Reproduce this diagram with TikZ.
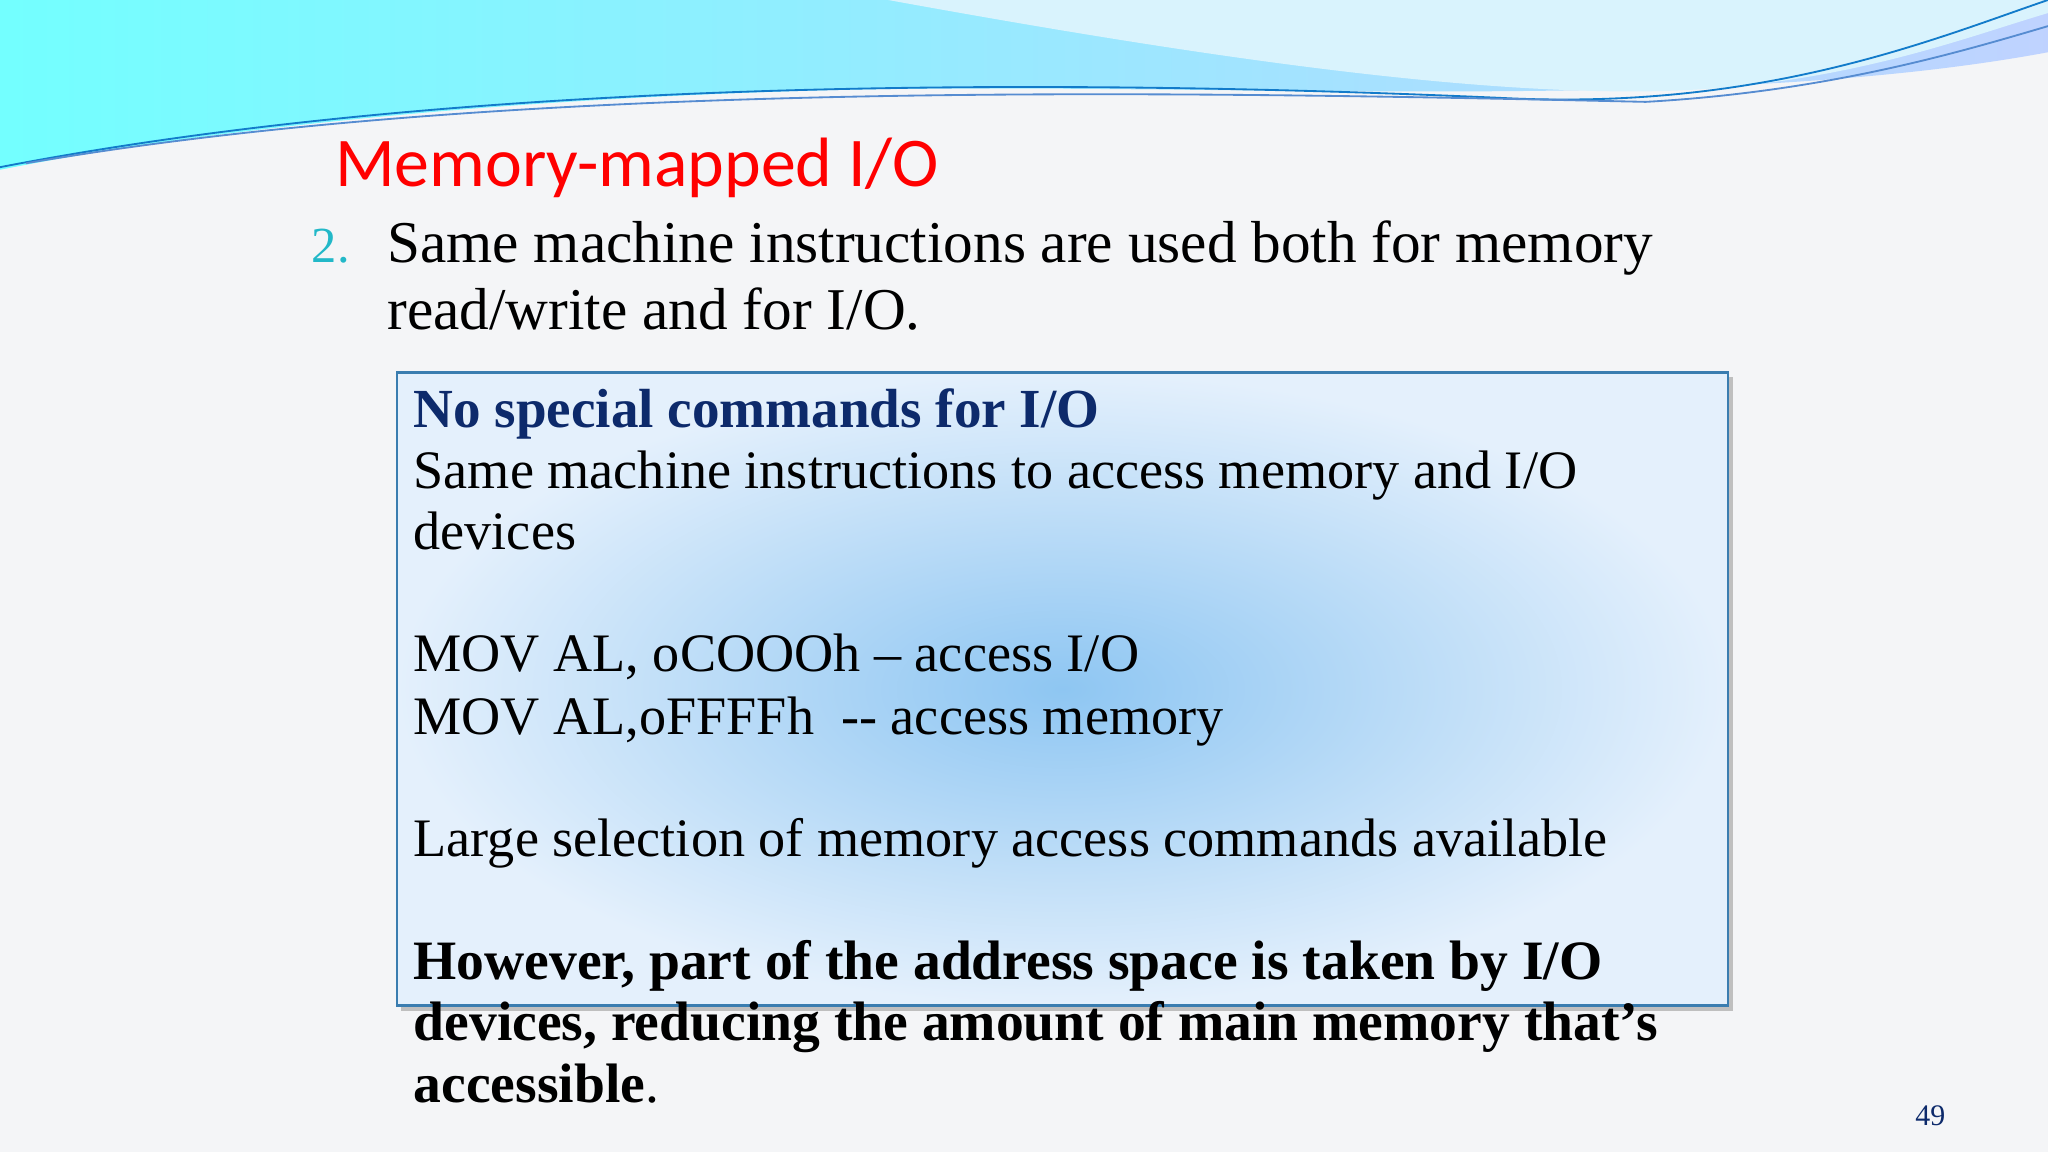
\documentclass[tikz,border=0pt]{standalone}
\usepackage{fontspec}
\setmainfont{Liberation Serif}
\newfontfamily\titlefont{Carlito}
\definecolor{bgc}{HTML}{F4F5F7}
\definecolor{navy}{HTML}{0D2A6B}
\definecolor{teal1}{HTML}{22B8C8}
\definecolor{boxedge}{HTML}{3A7DB0}
\definecolor{boxin}{HTML}{8EC6F2}
\definecolor{boxout}{HTML}{E4F0FC}
\tikzset{
  body/.style={anchor=base west,inner sep=0pt,font=\fontsize{12.9}{15}\selectfont},
  boxtxt/.style={anchor=base west,inner sep=0pt,font=\fontsize{11.8}{14}\selectfont}
}
\begin{document}
\begin{tikzpicture}[x=0.01cm,y=-0.01cm]
\fill[bgc] (0,0) rectangle (1568,882);
\useasboundingbox (0,0) rectangle (1568,882);
% top waves
\shade[left color=cyan!55!white, right color=cyan!30!blue!25] (0,0) -- (1568,0) -- (1568,40) .. controls (1300,90) and (900,60) .. (600,70) .. controls (300,80) and (100,110) .. (0,130) -- cycle;
\fill[white!85!cyan] (680,0) .. controls (900,40) and (1100,70) .. (1250,70) .. controls (1400,70) and (1500,30) .. (1568,10) -- (1568,0) -- cycle;
\draw[cyan!60!blue,thin] (0,128) .. controls (300,70) and (700,55) .. (1150,75) .. controls (1350,85) and (1480,30) .. (1568,0);
\draw[cyan!50!blue!70,thin] (20,125) .. controls (400,60) and (900,70) .. (1260,78) .. controls (1400,70) and (1500,40) .. (1568,20);
% title
\node[anchor=base west,inner sep=0pt,text=red,font=\titlefont\fontsize{15.2}{18}\selectfont] (title) at (256,143) {Memory-mapped I/O};
\node[anchor=base west,inner sep=0pt,text=teal1,font=\fontsize{11}{13}\selectfont] (num) at (238,201) {2.};
\node[body] (l1) at (296,201) {Same machine instructions are used both for memory};
\node[body] (l2) at (296,252) {read/write and for I/O.};
% box
\fill[black!25] (307,289) rectangle (1327,774);
\shade[inner color=boxin, outer color=boxout] (304,285) rectangle (1323,770);
\draw[boxedge,line width=0.6pt] (304,285) rectangle (1323,770) coordinate (boxse);
\node[boxtxt,text=navy,font=\bfseries\fontsize{12}{14}\selectfont] (b0) at (316,327) {No special commands for I/O};
\node[boxtxt] (b1) at (316,374) {Same machine instructions to access memory and I/O};
\node[boxtxt] (b2) at (316,421) {devices};
\node[boxtxt] (b3) at (316,514) {MOV AL, oCOOOh -- access I/O};
\node[boxtxt] (b4) at (316,562) {MOV AL,oFFFFh\ \ -{}- access memory};
\node[boxtxt] (b5) at (316,656) {Large selection of memory access commands available};
\node[boxtxt,font=\bfseries\fontsize{12.1}{14}\selectfont] (b6) at (316,750) {However, part of the address space is taken by I/O};
\node[boxtxt,font=\bfseries\fontsize{12.1}{14}\selectfont] (b7) at (316,797) {devices, reducing the amount of main memory that’s};
\node[boxtxt,font=\fontsize{12.1}{14}\selectfont] (b8) at (316,844) {\textbf{accessible}.};
\node[anchor=base east,inner sep=0pt,text=navy,font=\fontsize{6.5}{8}\selectfont] (pg) at (1490,862) {49};
\end{tikzpicture}
\end{document}
